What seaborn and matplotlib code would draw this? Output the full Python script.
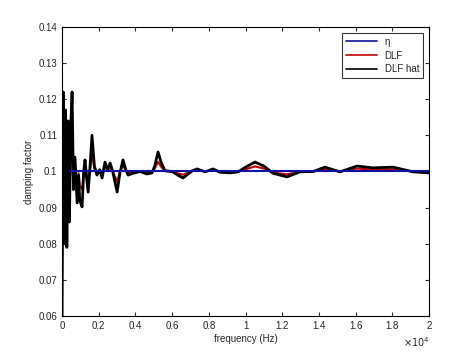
import numpy as np
import pandas as pd
import matplotlib
matplotlib.use("Agg")
import matplotlib.pyplot as plt
from matplotlib.ticker import FuncFormatter
import seaborn as sns

# frequency grid (Hz)
freq = [0, 60, 120, 190, 260, 330, 400, 470, 545, 620, 700, 820, 900, 960,
        1090, 1180, 1250, 1330, 1420, 1520, 1630, 1760, 1900, 2050, 2180,
        2340, 2480, 2620, 2760, 3000, 3150, 3320, 3470, 3600, 3870, 4250,
        4630, 4900, 5050, 5230, 5400, 5610, 6000, 6300, 6600, 6870, 7100,
        7360, 7800, 8230, 8610, 9160, 9600, 10000, 10520, 11000, 11500,
        12260, 12970, 13700, 14330, 15150, 16080, 16950, 18040, 19130, 20000]

# DLF hat (black)
dlf_hat = [0.060, 0.122, 0.080, 0.117, 0.079, 0.114, 0.086, 0.112, 0.122,
           0.095, 0.104, 0.0913, 0.099, 0.092, 0.0902, 0.100, 0.1032, 0.0985,
           0.0943, 0.101, 0.110, 0.1015, 0.099, 0.1005, 0.0982, 0.1026,
           0.1005, 0.1023, 0.1000, 0.0943, 0.0995, 0.1032, 0.1005, 0.099,
           0.0995, 0.1000, 0.0993, 0.0996, 0.1015, 0.1054, 0.1025, 0.1002,
           0.1000, 0.0990, 0.0982, 0.0993, 0.1002, 0.1007, 0.0999, 0.1007,
           0.0998, 0.0996, 0.0999, 0.1012, 0.1026, 0.1015, 0.0995, 0.0985,
           0.0999, 0.1000, 0.1012, 0.0999, 0.1015, 0.1010, 0.1012, 0.0999,
           0.0996]

# DLF (red)
dlf = [0.080, 0.111, 0.090, 0.108, 0.090, 0.107, 0.093, 0.106, 0.111,
       0.0975, 0.102, 0.0957, 0.0995, 0.096, 0.0951, 0.100, 0.1016, 0.0993,
       0.0972, 0.1005, 0.1052, 0.1008, 0.0995, 0.1003, 0.0991, 0.1013,
       0.1003, 0.1012, 0.1000, 0.0972, 0.0998, 0.1016, 0.1003, 0.0995,
       0.0998, 0.1000, 0.0997, 0.0998, 0.1008, 0.1027, 0.1013, 0.1001,
       0.1000, 0.0995, 0.0991, 0.0997, 0.1001, 0.1004, 0.1000, 0.1004,
       0.0999, 0.0998, 0.1000, 0.1006, 0.1014, 0.1008, 0.0997, 0.0992,
       0.1000, 0.1000, 0.1006, 0.1000, 0.1008, 0.1005, 0.1006, 0.1000,
       0.0998]

# eta (blue), constant loss factor
eta_freq = [450, 20000]
eta = [0.1, 0.1]

sns.set_style("ticks")
plt.rcParams['font.family'] = ['Liberation Sans', 'DejaVu Sans']

fig = plt.figure(figsize=(4.74, 3.55), dpi=100)
ax = fig.add_axes([0.131, 0.110, 0.774, 0.814])

df_hat = pd.DataFrame({'f': freq, 'v': dlf_hat})
df_dlf = pd.DataFrame({'f': freq, 'v': dlf})
df_eta = pd.DataFrame({'f': eta_freq, 'v': eta})

sns.lineplot(data=df_dlf, x='f', y='v', ax=ax, color='#c00000', lw=1.5,
             label='DLF', zorder=2)
sns.lineplot(data=df_hat, x='f', y='v', ax=ax, color='black', lw=2.0,
             label='DLF hat', zorder=3)
sns.lineplot(data=df_eta, x='f', y='v', ax=ax, color='#1010a0', lw=1.5,
             label='\u03b7', zorder=4)

ax.set_xlim(0, 20000)
ax.set_ylim(0.06, 0.14)
ax.set_xticks(np.arange(0, 20001, 2000))
ax.set_yticks(np.arange(0.06, 0.1401, 0.01))
ax.xaxis.set_major_formatter(FuncFormatter(lambda x, p: '%g' % round(x / 1e4, 2)))
ax.yaxis.set_major_formatter(FuncFormatter(lambda y, p: '%g' % round(y, 2)))
ax.tick_params(direction='in', top=True, right=True, labelsize=7, length=3,
               width=0.8)
for s in ax.spines.values():
    s.set_linewidth(0.8)
    s.set_color('black')

ax.set_xlabel('frequency (Hz)', fontsize=7, labelpad=2)
ax.set_ylabel('damping factor', fontsize=7, labelpad=3)
ax.text(1.003, -0.068, r'$\times 10^{4}$', transform=ax.transAxes,
        fontsize=7, ha='right', va='top')

h, l = ax.get_legend_handles_labels()
order = [2, 0, 1]
leg = ax.legend([h[i] for i in order], [l[i] for i in order],
                loc='upper right', fontsize=7, frameon=True, fancybox=False,
                handlelength=3.2, borderaxespad=0.6, labelspacing=0.4)
leg.get_frame().set_edgecolor('black')
leg.get_frame().set_linewidth(0.8)
for line in leg.get_lines():
    line.set_linewidth(1.2)

fig.savefig('out.png', dpi=100)
